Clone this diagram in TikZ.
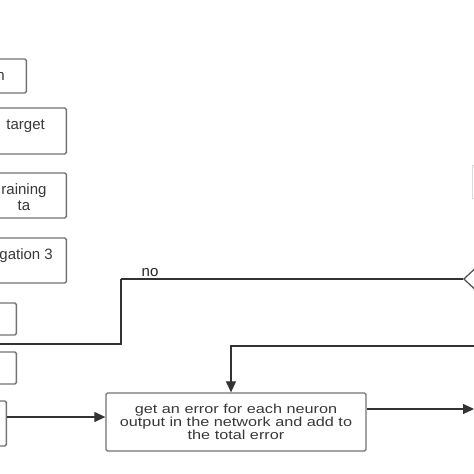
\documentclass[tikz,border=0pt]{standalone}
\usepackage{fontspec}
\setmainfont{Liberation Sans}
\newfontfamily\widefont[FakeStretch=1.25]{Liberation Sans}
\usetikzlibrary{arrows.meta,shapes.geometric}

\begin{document}
\begin{tikzpicture}[x=1pt, y=-1pt,
    box/.style={draw=black!55, line width=1.3pt, rounded corners=1.5pt, inner sep=0pt, minimum width=120},
    txt/.style={inner sep=0pt, text=black!78, font=\fontsize{15}{16.5}\selectfont},
    lbl/.style={inner sep=0pt, text=black!85, font=\fontsize{15}{17}\selectfont},
    link/.style={draw=black!80, line width=1.2pt},
    arr/.style={link, -{Triangle[length=11pt, width=10pt]}},
  ]

  \useasboundingbox (0,0) rectangle (474,474);
  \clip (0,0) rectangle (474,474);

  % left column, cut by the frame
  \foreach \n/\r/\c/\h in {1/27/76/34, 2/67/131/46, 3/67/195.5/45, 4/67/260.5/45,
                           5/17/319/32, 6/17/368/32, 7/7/423.5/45} {
    \node[box, minimum height=\h, anchor=east] (b\n) at (\r,\c) {};
  }

  \node[txt, anchor=base east] (t1) at (5,80) {n};
  \node[txt, anchor=base east] (t2) at (45,129) {target};
  \node[txt, align=center] (t3) at (24,197) {raining\\ta};
  \node[txt, anchor=base east] (t4) at (53,259) {gation 3};

  \node[box, minimum width=260, minimum height=58, align=center, text=black!78,
        font=\widefont\fontsize{13}{13.3}\selectfont] (err) at (236,422)
        {get an error for each neuron\\output in the network and add to\\the total error};

  \node[diamond, draw=black!70, line width=1.2pt, minimum width=60, minimum height=56,
        anchor=west] (chk) at (463,279) {};
  \node[draw=black!15, line width=1pt, minimum width=60, minimum height=33,
        anchor=west] (side) at (472,181.5) {};

  \coordinate (from5) at (-5,344);
  \coordinate (bend) at (121,279);
  \coordinate (a7) at ([yshift=6.5pt]b7.east);
  \coordinate (a8) at ([yshift=13pt]err.east);
  \coordinate (toR) at (474,409);
  \coordinate (back) at (476,346);

  \draw[link, line width=1.8pt] (from5) -| (bend);
  \draw[link] (bend) -- node[lbl, pos=.085, above=2pt] (no) {no} (chk.west);
  \draw[arr] (a7) -- (a7 -| err.west);
  \draw[arr] (a8) -- (toR);
  \draw[arr] (back) -| ([xshift=-5pt]err.north);

\end{tikzpicture}
\end{document}
